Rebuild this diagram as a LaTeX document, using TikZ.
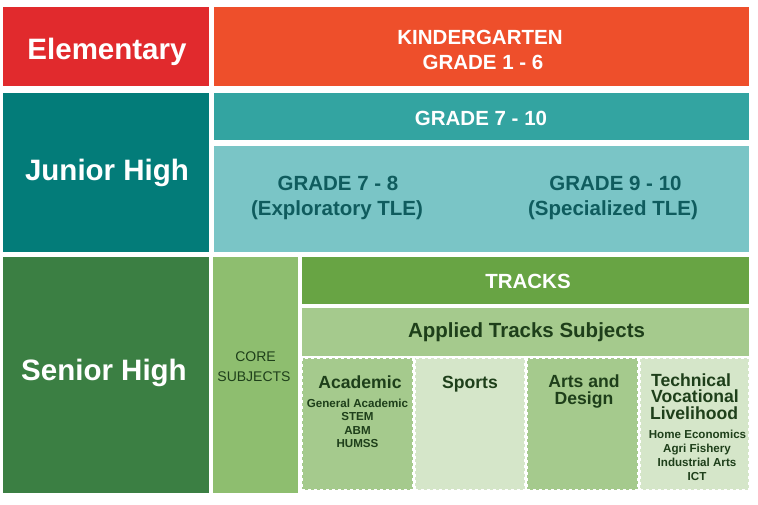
\documentclass[tikz,border=0pt]{standalone}
\usepackage{fontspec}
\setmainfont{Liberation Sans}
\definecolor{cElem}{HTML}{E12A2D}
\definecolor{cKind}{HTML}{EE4F2B}
\definecolor{cJun}{HTML}{037C79}
\definecolor{cGten}{HTML}{33A4A1}
\definecolor{cGlt}{HTML}{7AC5C6}
\definecolor{cSen}{HTML}{3B7F43}
\definecolor{cCore}{HTML}{8EBE6F}
\definecolor{cTrk}{HTML}{68A444}
\definecolor{cApp}{HTML}{A5CA8D}
\definecolor{cPale}{HTML}{D5E6C9}
\definecolor{tTeal}{HTML}{0F5C5E}
\definecolor{tGreen}{HTML}{1E3F1A}
\newcommand{\fsz}[1]{\fontsize{#1}{#1}\selectfont}
\tikzset{
  box/.style={draw=none, inner sep=0pt, outer sep=0pt},
  dbox/.style={draw=white, dash pattern=on 3pt off 3pt, line width=1.5pt, inner sep=0pt, outer sep=0pt},
  ln/.style={anchor=base, inner sep=0pt, outer sep=0pt},
  big/.style={ln, text=white, font=\fsz{29.5}\bfseries},
  mid/.style={ln, text=white, font=\fsz{20.5}\bfseries},
  midteal/.style={ln, text=tTeal, font=\fsz{20.5}\bfseries},
  midgreen/.style={ln, text=tGreen, font=\fsz{20.5}\bfseries},
  ttl/.style={ln, text=tGreen, font=\fsz{17.6}\bfseries},
  sml/.style={ln, text=tGreen, font=\fsz{11.6}\bfseries},
  core/.style={ln, text=tGreen, font=\fsz{14}},
}
\begin{document}
\begin{tikzpicture}[x=1pt, y=-1pt]
\useasboundingbox (0,0) rectangle (758,504);
% boxes
\node[box, fill=cElem, minimum width=206pt, minimum height=79pt] (elem) at (106,46.5) {};
\node[box, fill=cKind, minimum width=535pt, minimum height=79pt] (kind) at (481.5,46.5) {};
\node[box, fill=cJun, minimum width=206pt, minimum height=158.5pt] (jun) at (106,172.25) {};
\node[box, fill=cGten, minimum width=535pt, minimum height=47pt] (gten) at (481.5,116.5) {};
\node[box, fill=cGlt, minimum width=535pt, minimum height=105.5pt] (gsplit) at (481.5,198.75) {};
\node[box, fill=cSen, minimum width=206pt, minimum height=236pt] (sen) at (106,375) {};
\node[box, fill=cCore, minimum width=85pt, minimum height=236pt] (corebox) at (255.5,375) {};
\node[box, fill=cTrk, minimum width=447pt, minimum height=47pt] (tracks) at (525.5,280.5) {};
\node[box, fill=cApp, minimum width=447pt, minimum height=48pt] (applied) at (525.5,332) {};
\node[dbox, fill=cApp, minimum width=111pt, minimum height=132pt] (acad) at (357.5,424) {};
\node[dbox, fill=cPale, minimum width=110pt, minimum height=132pt] (sports) at (470,424) {};
\node[dbox, fill=cApp, minimum width=111pt, minimum height=132pt] (arts) at (582.5,424) {};
\node[dbox, fill=cPale, minimum width=109pt, minimum height=132pt] (tvl) at (694.5,424) {};
% texts
\node[big] (tElem) at (107,59) {Elementary};
\node[mid] (tKind1) at (480,44) {KINDERGARTEN};
\node[mid] (tKind2) at (483,69) {GRADE 1 - 6};
\node[big] (tJun) at (107,180) {Junior High};
\node[mid] (tGten) at (481,125) {GRADE 7 - 10};
\node[midteal] (tG78a) at (338,190) {GRADE 7 - 8};
\node[midteal] (tG78b) at (337,215) {(Exploratory TLE)};
\node[midteal] (tG910a) at (615.5,190) {GRADE 9 - 10};
\node[midteal] (tG910b) at (613,215) {(Specialized TLE)};
\node[big] (tSen) at (104,380) {Senior High};
\node[core] (tCore1) at (255.5,361) {CORE};
\node[core] (tCore2) at (254,381) {SUBJECTS};
\node[mid] (tTrk) at (528,288) {TRACKS};
\node[midgreen] (tApp) at (526.5,337) {Applied Tracks Subjects};
\node[ttl] (tAcad) at (360,388) {Academic};
\node[sml] (tAcad1) at (357.5,407) {General Academic};
\node[sml] (tAcad2) at (357.5,420.5) {STEM};
\node[sml] (tAcad3) at (357.5,434) {ABM};
\node[sml] (tAcad4) at (357.5,447.5) {HUMSS};
\node[ttl] (tSports) at (470,388) {Sports};
\node[ttl] (tArts1) at (584,387.5) {Arts and};
\node[ttl] (tArts2) at (584,404) {Design};
\node[ttl] (tTvl1) at (691,386) {Technical};
\node[ttl] (tTvl2) at (695,402.7) {Vocational};
\node[ttl] (tTvl3) at (694,419.3) {Livelihood};
\node[sml] (tTvl4) at (697.5,438) {Home Economics};
\node[sml] (tTvl5) at (697,452) {Agri Fishery};
\node[sml] (tTvl6) at (697,466) {Industrial Arts};
\node[sml] (tTvl7) at (697,480) {ICT};
\end{tikzpicture}
\end{document}
